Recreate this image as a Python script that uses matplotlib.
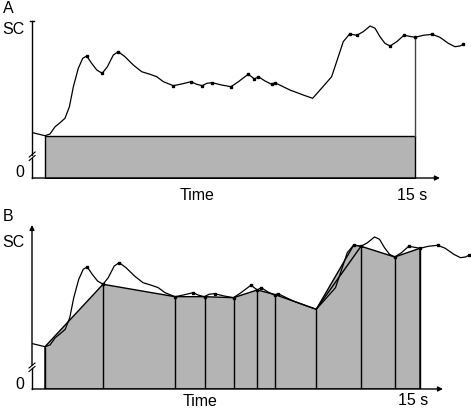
import matplotlib
matplotlib.use("Agg")
import matplotlib.pyplot as plt

plt.rcParams["font.family"] = ["Liberation Sans", "DejaVu Sans"]

# skin conductance trace (time in s, SC in arbitrary units)
trace_t = [-0.50, 0.00, 0.20, 0.41, 0.61, 0.81, 0.99, 1.15, 1.35, 1.53,
           1.69, 1.89, 2.10, 2.32, 2.53, 2.77, 2.97, 3.24, 3.58, 3.92,
           4.26, 4.53, 4.80, 5.20, 5.54, 5.92, 6.15, 6.38, 6.56, 6.78,
           7.16, 7.54, 7.84, 8.24, 8.49, 8.65, 8.92, 9.19, 9.32, 9.93,
           10.47, 10.85, 11.15, 11.62, 11.89, 12.09, 12.35, 12.64, 12.90, 13.18,
           13.38, 13.58, 13.78, 13.99, 14.26, 14.55, 15.00, 15.34, 15.70, 16.01,
           16.35, 16.62, 16.82, 16.96]
trace_sc = [4.53, 4.23, 4.40, 5.13, 5.53, 5.97, 7.13, 9.13, 10.97, 11.97,
            12.20, 11.47, 10.80, 10.47, 11.13, 12.30, 12.63, 12.13, 11.30, 10.63,
            10.37, 10.13, 9.63, 9.23, 9.40, 9.63, 9.37, 9.23, 9.47, 9.53,
            9.30, 9.13, 9.63, 10.38, 9.90, 10.13, 9.70, 9.37, 9.53, 8.80,
            8.30, 7.97, 8.80, 10.13, 12.13, 13.63, 14.40, 14.27, 14.63, 15.20,
            14.97, 14.13, 13.47, 13.20, 13.63, 14.27, 14.07, 14.27, 14.37, 14.07,
            13.47, 13.13, 13.20, 13.37]

# sampled points marked on the trace
mark_t = [1.69, 2.32, 2.97, 5.20, 5.92, 6.38, 6.78, 7.54, 8.24, 8.49,
          8.65, 9.19, 9.32, 12.35, 12.64, 13.99, 14.55, 15.00, 15.70, 16.96]
mark_sc = [12.20, 10.47, 12.63, 9.23, 9.63, 9.23, 9.53, 9.13, 10.38, 9.90,
           10.13, 9.37, 9.53, 14.40, 14.27, 13.20, 14.27, 14.07, 14.37, 13.37]

# panel A: baseline level over the 15 s window
base_sc = 4.23
window_end = 15.0

# panel B: piecewise linear outline through the troughs
poly_t = [0.00, 2.32, 5.20, 6.38, 7.54, 8.49, 9.19, 10.85, 12.35, 12.64, 13.99, 15.00]
poly_sc = [4.23, 10.47, 9.23, 9.23, 9.13, 9.90, 9.45, 7.97, 14.40, 14.27, 13.20, 14.07]
vline_t = [0.00, 2.32, 5.20, 6.38, 7.54, 8.49, 9.19, 10.85, 12.64, 13.99, 15.00]
vline_sc = [4.23, 10.47, 9.23, 9.23, 9.13, 9.90, 9.45, 7.97, 14.27, 13.20, 14.07]

GREY = "#b4b4b4"
T0 = -0.52  # where the SC axis sits
FS = 11.5

fig = plt.figure(figsize=(4.71, 4.08), dpi=100)
ax_a = fig.add_axes([0, 0.5637, 1, 0.4118])
ax_b = fig.add_axes([0, 0.0466, 1, 0.4265])
ax_a.set_xlim(-1.824, 17.27)
ax_a.set_ylim(0, 16.8)
ax_b.set_xlim(-1.8, 17.04)
ax_b.set_ylim(0, 17.4)


def draw_axes(ax, y_top, x_tip, arrow_top):

    '''
    Draws the broken SC axis and the time arrow.
    '''

    ax.axis("off")
    ax.plot([T0, T0], [0, 2.05], color="k", lw=1, clip_on=False)
    if arrow_top:
        ax.annotate("", xy=(T0, y_top), xytext=(T0, 2.35),
                    arrowprops=dict(arrowstyle="-|>", lw=1, color="k",
                                    mutation_scale=7, shrinkA=0, shrinkB=0))
    else:
        ax.plot([T0, T0], [2.35, y_top], color="k", lw=1, clip_on=False)
        ax.plot([T0 - 0.08, T0 + 0.08], [y_top, y_top], color="k", lw=1)
    for y in (2.0, 2.35):
        ax.plot([T0 - 0.12, T0 + 0.12], [y - 0.25, y + 0.25], color="k", lw=0.8)
    ax.annotate("", xy=(x_tip, 0), xytext=(T0, 0),
                arrowprops=dict(arrowstyle="-|>", lw=1, color="k",
                                mutation_scale=7, shrinkA=0, shrinkB=0))


# panel A
draw_axes(ax_a, 15.7, 16.01, False)
ax_a.fill_between([0, window_end], 0, base_sc, facecolor=GREY,
                  edgecolor="k", lw=1)
ax_a.plot([window_end, window_end], [base_sc, 14.07], color="#444444", lw=1)
ax_a.plot(trace_t, trace_sc, color="k", lw=0.9)
ax_a.plot(mark_t, mark_sc, "s", color="k", ms=1.7)
ax_a.text(-1.50, 16.9, "A", fontsize=FS, ha="center", va="center")
ax_a.text(-1.30, 14.8, "SC", fontsize=FS, ha="center", va="center")
ax_a.text(-1.01, 0.6, "0", fontsize=FS, ha="center", va="center")
ax_a.text(6.16, -1.7, "Time", fontsize=FS, ha="center", va="center")
ax_a.text(14.88, -1.7, "15 s", fontsize=FS, ha="center", va="center")

# panel B
draw_axes(ax_b, 16.4, 15.92, True)
ax_b.fill([0] + poly_t + [window_end], [0] + poly_sc + [0],
          facecolor=GREY, edgecolor="k", lw=1)
ax_b.vlines(vline_t, 0, vline_sc, color="k", lw=1)
ax_b.plot([10.85, 12.64], [7.97, 14.27], color="k", lw=1)
ax_b.plot(trace_t, trace_sc, color="k", lw=0.9)
ax_b.plot(mark_t, mark_sc, "s", color="k", ms=1.7)
ax_b.text(-1.48, 17.2, "B", fontsize=FS, ha="center", va="center")
ax_b.text(-1.28, 14.6, "SC", fontsize=FS, ha="center", va="center")
ax_b.text(-1.00, 0.4, "0", fontsize=FS, ha="center", va="center")
ax_b.text(6.20, -1.3, "Time", fontsize=FS, ha="center", va="center")
ax_b.text(14.72, -1.2, "15 s", fontsize=FS, ha="center", va="center")

fig.savefig("out.png", dpi=100)
